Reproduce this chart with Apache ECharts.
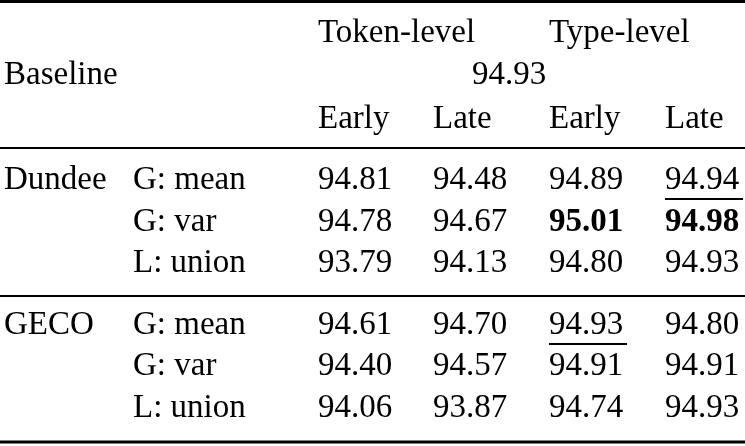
<!DOCTYPE html>
<html>
<head>
<meta charset="utf-8">
<script src="https://cdn.jsdelivr.net/npm/echarts@6/dist/echarts.min.js"></script>
<style>html,body{margin:0;padding:0;background:#fff}#main{width:745px;height:446px}</style>
</head>
<body>
<div id="main"></div>
<script>
var groups = ['Dundee', 'GECO'];
var methods = ['G: mean', 'G: var', 'L: union'];
var subCols = ['Early', 'Late', 'Early', 'Late'];
var baseline = '94.93';
var dundee = [
  ['94.81', '94.48', '94.89', '94.94'],
  ['94.78', '94.67', '95.01', '94.98'],
  ['93.79', '94.13', '94.80', '94.93']
];
var geco = [
  ['94.61', '94.70', '94.93', '94.80'],
  ['94.40', '94.57', '94.91', '94.91'],
  ['94.06', '93.87', '94.74', '94.93']
];
// [group, row, col] marks
var boldCells = [[0, 1, 2], [0, 1, 3]];
var underCells = [[0, 0, 3], [1, 0, 2]];

var chart = echarts.init(document.getElementById('main'));
var font = 'Liberation Serif, serif';
var fs = 33;
var colX = [318, 433, 549, 665];
var rowY = [[180, 222, 263], [325, 366, 408]];
var els = [];

function txt(s, x, y, opt) {
  opt = opt || {};
  els.push({
    type: 'text', x: x, y: y,
    style: { text: s, fill: '#000', fontFamily: font, fontSize: fs, fontWeight: opt.bold ? 'bold' : 'normal',
      textAlign: 'left', textVerticalAlign: 'middle' }
  });
}
function line(x1, y, x2, w) {
  els.push({ type: 'line', shape: { x1: x1, y1: y, x2: x2, y2: y }, style: { stroke: '#000', lineWidth: w } });
}
function has(list, g, r, c) {
  return list.some(function (m) { return m[0] === g && m[1] === r && m[2] === c; });
}

line(0, 1.5, 745, 3);
line(0, 148, 745, 2);
line(0, 296, 745, 2);
line(0, 442, 745, 3);

txt('Token-level', 318, 33);
txt('Type-level', 549, 33);
txt('Baseline', 4, 75);
txt(baseline, 472, 75);
subCols.forEach(function (s, i) { txt(s, colX[i], 119); });

[dundee, geco].forEach(function (data, g) {
  txt(groups[g], 4, rowY[g][0]);
  methods.forEach(function (m, r) {
    txt(m, 133, rowY[g][r]);
    data[r].forEach(function (v, c) {
      txt(v, colX[c], rowY[g][r], { bold: has(boldCells, g, r, c) });
      if (has(underCells, g, r, c)) line(colX[c], rowY[g][r] + 19, colX[c] + 78, 2);
    });
  });
});

chart.setOption({ animation: false, graphic: { elements: els } });
</script>
</body>
</html>
